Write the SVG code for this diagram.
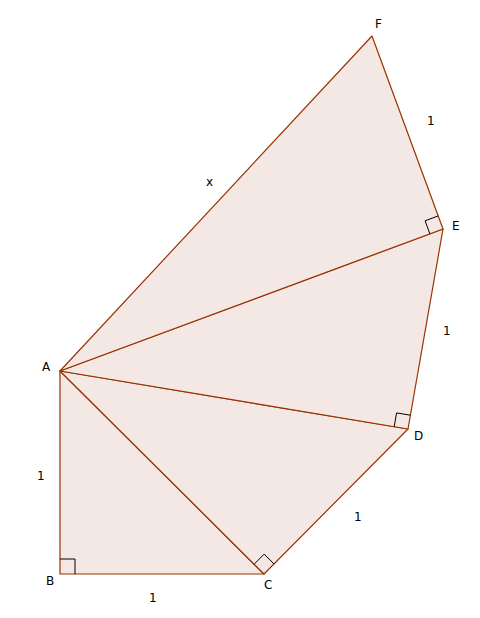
<svg xmlns="http://www.w3.org/2000/svg" width="480" height="618" viewBox="0 0 480 618">
<style>
.tri{fill:#f3e8e3;stroke:#993300;stroke-width:1.2;stroke-linejoin:round}
.ra{fill:none;stroke:#000;stroke-width:1}
text{font-family:"DejaVu Sans",sans-serif;font-size:12px;fill:#000}
</style>
<rect width="480" height="618" fill="#fff"/>
<g id="connectors">
<polygon id="ABC" class="tri" points="60,371 60,574 264,574"/>
<polygon id="ACD" class="tri" points="60,371 264,574 408,429"/>
<polygon id="ADE" class="tri" points="60,371 408,429 443,229"/>
<polygon id="AEF" class="tri" points="60,371 443,229 372,36"/>
</g>
<g id="markers">
<polyline class="ra" points="60,559 75,559 75,574"/>
<polyline class="ra" points="254.2,564.1 264.2,554.1 274.1,564.1"/>
<polyline class="ra" points="394.2,426.7 396.6,412.9 410.4,415.2"/>
<polyline class="ra" points="429.9,233.9 425.1,220.8 438.2,215.9"/>
</g>
<g id="A"><text x="42" y="371">A</text></g>
<g id="B"><text x="46" y="585">B</text></g>
<g id="C"><text x="264" y="589">C</text></g>
<g id="D"><text x="414" y="440">D</text></g>
<g id="E"><text x="452" y="230">E</text></g>
<g id="F"><text x="375" y="28">F</text></g>
<g id="labels">
<text x="427" y="125">1</text>
<text x="443" y="335">1</text>
<text x="354" y="521">1</text>
<text x="149" y="602">1</text>
<text x="37" y="480">1</text>
<text x="206" y="186">x</text>
</g>
</svg>
